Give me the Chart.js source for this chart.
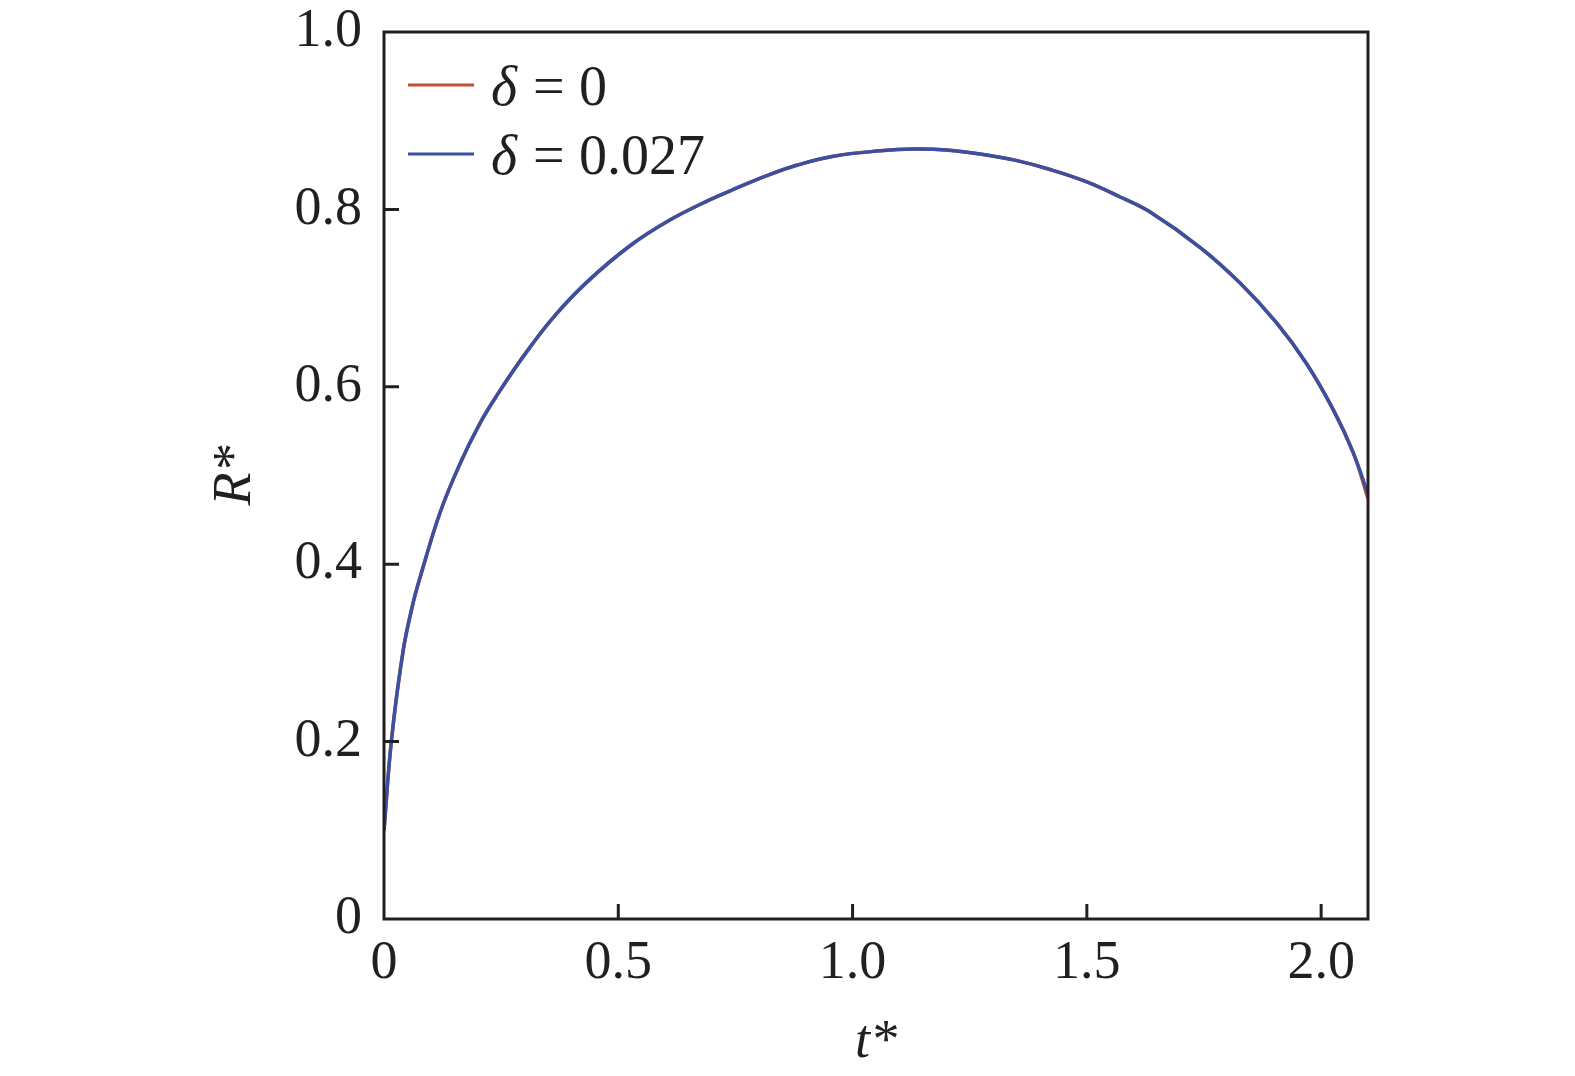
<!DOCTYPE html>
<html>
<head>
<meta charset="utf-8">
<script src="https://cdn.jsdelivr.net/npm/chart.js@4.4.1/dist/chart.umd.min.js"></script>
<style>
  html, body { margin: 0; padding: 0; background: #fff; }
  #wrap { width: 1575px; height: 1076px; position: relative; }
</style>
</head>
<body>
<div id="wrap"><canvas id="chart"></canvas></div>
<script>
// values
const tValues = [0, 0.016, 0.041, 0.062, 0.077, 0.1195, 0.162, 0.205, 0.2405, 0.297, 0.361, 0.433, 0.525, 0.610, 0.696, 0.739, 0.817, 0.882, 0.959, 1.059, 1.130, 1.200, 1.279, 1.351, 1.4215, 1.500, 1.571, 1.635, 1.742, 1.827, 1.905, 1.969, 2.026, 2.069, 2.1];
const rDelta0 = [0.100, 0.202, 0.303, 0.356, 0.385, 0.458, 0.513, 0.559, 0.590, 0.634, 0.678, 0.718, 0.759, 0.788, 0.811, 0.821, 0.838, 0.850, 0.860, 0.866, 0.868, 0.867, 0.862, 0.855, 0.845, 0.831, 0.814, 0.797, 0.757, 0.717, 0.672, 0.626, 0.574, 0.525, 0.474];
const rDelta027 = [0.100, 0.202, 0.303, 0.356, 0.385, 0.458, 0.513, 0.559, 0.590, 0.634, 0.678, 0.718, 0.759, 0.788, 0.811, 0.821, 0.838, 0.850, 0.860, 0.866, 0.868, 0.867, 0.862, 0.855, 0.845, 0.831, 0.814, 0.797, 0.757, 0.717, 0.672, 0.626, 0.574, 0.525, 0.479];
const seriesLabels = ['δ = 0', 'δ = 0.027'];
const seriesColors = ['#c2502f', '#3a50a2'];
const xTicks = [0, 0.5, 1.0, 1.5, 2.0];
const yTicks = [0, 0.2, 0.4, 0.6, 0.8, 1.0];

const FONT = '"Liberation Serif", "Times New Roman", serif';
const INK = '#231f20';

function toPoints(xs, ys) {
    return xs.map((x, i) => ({ x: x, y: ys[i] }));
}

function fmt(v) {
    return v === 0 ? '0' : v.toFixed(1);
}

// frame, inward ticks, legend and axis titles
const decorations = {
    id: 'decorations',
    afterDraw(chart) {
        const ctx = chart.ctx;
        const a = chart.chartArea;
        const xs = chart.scales.x;
        const ys = chart.scales.y;
        ctx.save();
        ctx.strokeStyle = INK;
        ctx.lineWidth = 3;
        ctx.strokeRect(a.left, a.top, a.right - a.left, a.bottom - a.top);

        ctx.beginPath();
        xs.ticks.forEach(t => {
            if (t.value === 0) return;
            const px = xs.getPixelForValue(t.value);
            ctx.moveTo(px, a.bottom);
            ctx.lineTo(px, a.bottom - 15);
        });
        ys.ticks.forEach(t => {
            if (t.value === 0 || t.value === 1) return;
            const py = ys.getPixelForValue(t.value);
            ctx.moveTo(a.left, py);
            ctx.lineTo(a.left + 15, py);
        });
        ctx.stroke();

        // legend inside the plot
        ctx.textBaseline = 'alphabetic';
        ctx.fillStyle = INK;
        chart.data.datasets.forEach((ds, i) => {
            const y = 85 + i * 69;
            ctx.strokeStyle = ds.borderColor;
            ctx.lineWidth = 3;
            ctx.beginPath();
            ctx.moveTo(408, y);
            ctx.lineTo(474, y);
            ctx.stroke();
            const parts = ds.label.split(' = ');
            ctx.font = 'italic 56px ' + FONT;
            ctx.fillText(parts[0], 491, y + 20);
            ctx.font = '56px ' + FONT;
            ctx.fillText('=', 533, y + 20);
            ctx.fillText(parts[1], 579, y + 20);
        });

        // axis titles
        ctx.font = 'italic 54px ' + FONT;
        ctx.textAlign = 'center';
        ctx.textBaseline = 'middle';
        ctx.fillText('t*', (a.left + a.right) / 2, 1043);
        ctx.translate(236, (a.top + a.bottom) / 2);
        ctx.rotate(-Math.PI / 2);
        ctx.fillText('R*', 0, 0);
        ctx.restore();
    }
};

const ctx = document.getElementById('chart').getContext('2d');
new Chart(ctx, {
    type: 'scatter',
    data: {
        datasets: [{
            label: seriesLabels[0],
            data: toPoints(tValues, rDelta0),
            borderColor: seriesColors[0],
            backgroundColor: seriesColors[0],
            order: 2
        }, {
            label: seriesLabels[1],
            data: toPoints(tValues, rDelta027),
            borderColor: seriesColors[1],
            backgroundColor: seriesColors[1],
            order: 1
        }]
    },
    options: {
        responsive: true,
        maintainAspectRatio: false,
        animation: false,
        showLine: true,
        elements: {
            point: { radius: 0 },
            line: { borderWidth: 3.5, tension: 0.4 }
        },
        layout: { padding: { top: 32, right: 207, bottom: 0, left: 0 } },
        plugins: {
            legend: { display: false },
            tooltip: { enabled: false }
        },
        scales: {
            x: {
                type: 'linear',
                min: 0,
                max: 2.1,
                grid: { display: false, drawTicks: false },
                border: { display: false },
                afterBuildTicks: s => { s.ticks = xTicks.map(v => ({ value: v })); },
                afterFit: s => {
                    s.height = 157;
                    s.paddingLeft = 0;
                    s.paddingRight = 0;
                },
                ticks: {
                    padding: 12,
                    color: INK,
                    font: { family: FONT, size: 54 },
                    callback: v => fmt(v)
                }
            },
            y: {
                type: 'linear',
                min: 0,
                max: 1.0,
                grid: { display: false, drawTicks: false },
                border: { display: false },
                afterBuildTicks: s => { s.ticks = yTicks.map(v => ({ value: v })); },
                afterFit: s => {
                    s.width = 384;
                    s.paddingTop = 0;
                    s.paddingBottom = 0;
                },
                ticks: {
                    padding: 22,
                    color: INK,
                    font: { family: FONT, size: 54 },
                    callback: v => fmt(v)
                }
            }
        }
    },
    plugins: [decorations]
});
</script>
</body>
</html>
